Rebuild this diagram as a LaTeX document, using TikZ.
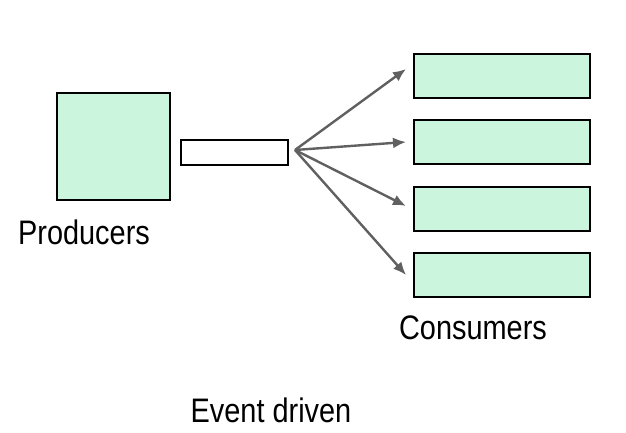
\documentclass[tikz,border=0pt]{standalone}
\usepackage{fontspec}
\setmainfont{Liberation Sans}
\usetikzlibrary{arrows.meta}
\definecolor{mint}{HTML}{CCF5DD}
\begin{document}
\begin{tikzpicture}[x=1pt,y=1pt,
  box/.style={draw=black,line width=1.6pt,fill=mint,inner sep=0pt,outer sep=0pt},
  arr/.style={draw=gray!75!black,line width=2.4pt,-{Latex[length=13pt,width=11pt]}},
  lbl/.style={font=\fontsize{34}{36}\selectfont,inner sep=0pt,xscale=0.85}]
\useasboundingbox (0,0) rectangle (626,433);
\node[box,minimum width=113pt,minimum height=107pt] (prod) at (113.5,286.5) {};
\node[box,fill=white,minimum width=107pt,minimum height=25pt] (q) at (234.5,280.5) {};
\coordinate (src) at (295,283);
\node[box,minimum width=176pt,minimum height=44pt] (c1) at (502,357) {};
\node[box,minimum width=176pt,minimum height=44pt] (c2) at (502,291) {};
\node[box,minimum width=176pt,minimum height=44pt] (c3) at (502,224) {};
\node[box,minimum width=176pt,minimum height=44pt] (c4) at (502,158) {};
\coordinate (t1) at (406,364);
\coordinate (t2) at (406,291);
\coordinate (t3) at (406,227);
\coordinate (t4) at (406,158);
\draw[arr] (src) -- (t1);
\draw[arr] (src) -- (t2);
\draw[arr] (src) -- (t3);
\draw[arr] (src) -- (t4);
\node[lbl] (lp) at (84,201) {Producers};
\node[lbl] (lc) at (473,105) {Consumers};
\node[lbl] (le) at (271,23) {Event driven};
\end{tikzpicture}
\end{document}
